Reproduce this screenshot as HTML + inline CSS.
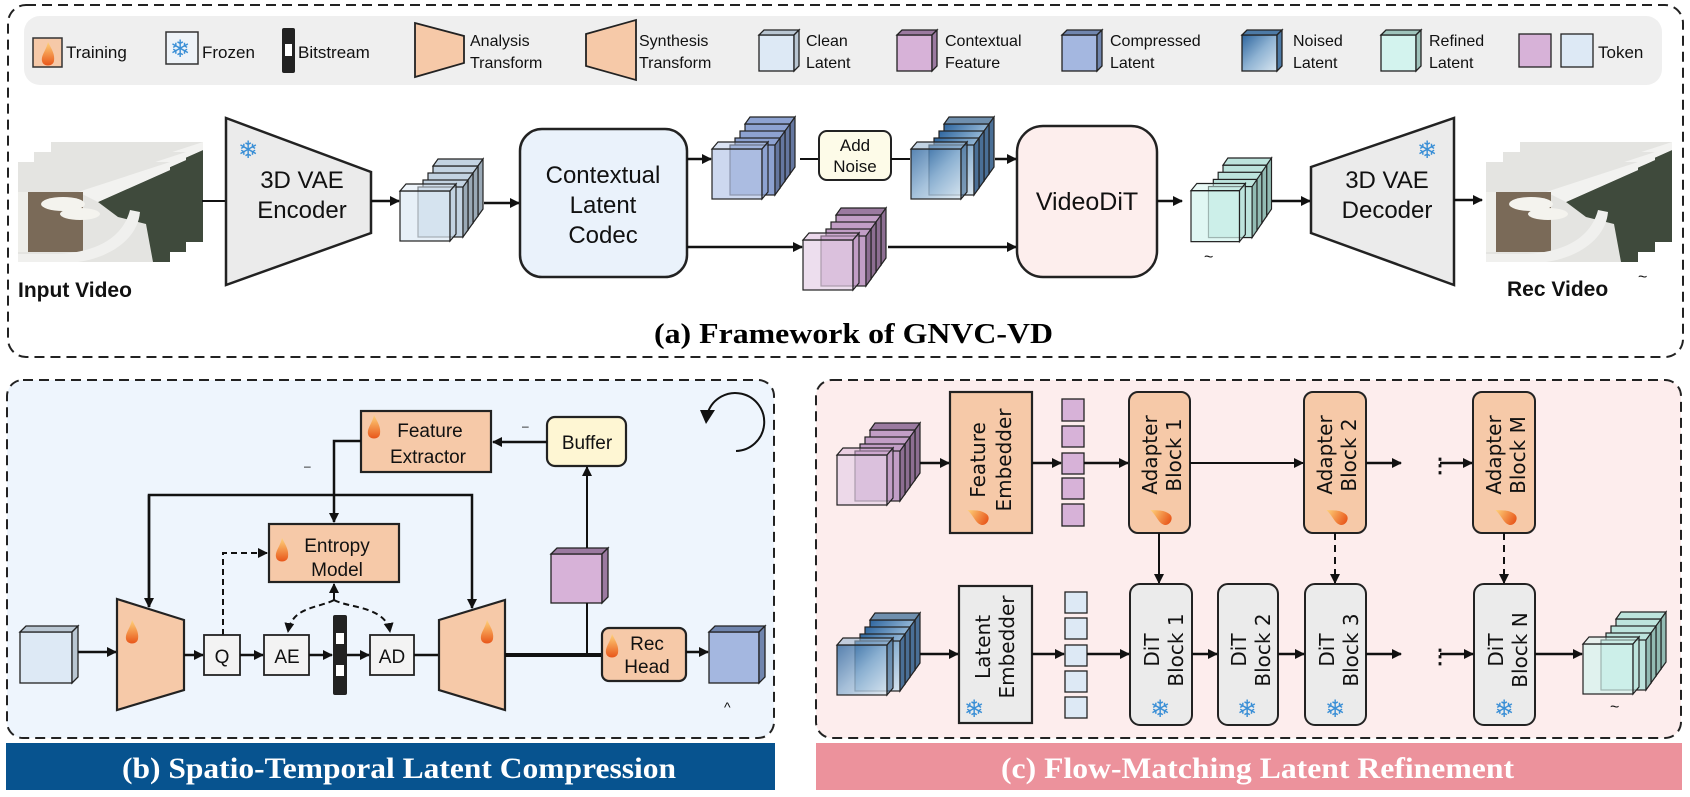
<!DOCTYPE html>
<html><head><meta charset="utf-8"><style>
html,body{margin:0;padding:0;background:#fff}
svg{display:block}
.t{font-family:"Liberation Sans",sans-serif;fill:#111}
.s{font-family:"DejaVu Sans",sans-serif;fill:#111}
.sf{font-family:"DejaVu Sans",sans-serif;fill:#3a8fd6}
.ti{font-family:"Liberation Serif",serif;font-weight:bold}
</style></head><body>
<svg width="1690" height="797" viewBox="0 0 1690 797" xmlns="http://www.w3.org/2000/svg">
<defs>
<marker id="ar" markerWidth="10" markerHeight="10" refX="9" refY="5" orient="auto" markerUnits="userSpaceOnUse"><path d="M0,0 L10,5 L0,10z" fill="#111"/></marker>
<linearGradient id="fl" x1="0" y1="0" x2="0" y2="1"><stop offset="0" stop-color="#ffd27a"/><stop offset="1" stop-color="#e8561a"/></linearGradient>
<linearGradient id="nz" x1="0" y1="0" x2="1" y2="1"><stop offset="0" stop-color="#2d659e"/><stop offset=".5" stop-color="#8fb3d3"/><stop offset="1" stop-color="#d9e6f0"/></linearGradient>
<g id="flame"><path d="M6,0 C10,8 13,12 12,19 C11,25 1,25 0,19 C-1,13 4,9 6,0Z" fill="url(#fl)"/></g>
<g id="frame">
<rect width="152" height="100" fill="#e4e4e1"/>
<polygon points="80,40 152,8 152,100 135,100 128,62 100,55" fill="#3f4a3c"/>
<polygon points="60,30 152,0 152,8 80,40" fill="#f2f2f0"/>
<rect x="0" y="30" width="65" height="60" fill="#7a6a58"/>
<ellipse cx="45" cy="42" rx="22" ry="7" fill="#f4f3ee"/>
<ellipse cx="62" cy="52" rx="20" ry="6" fill="#f4f3ee"/>
<path d="M0,100 L60,100 C95,95 120,75 122,50 L112,48 C105,75 80,90 40,92 L0,92Z" fill="#f0f0ee"/>
<rect x="0" y="30" width="10" height="60" fill="#eeeeea"/>
</g>
</defs>

<!-- ============ (a) ============ -->
<rect x="8" y="5" width="1675" height="352" rx="18" fill="#fff" stroke="#222" stroke-width="2" stroke-dasharray="10 6"/>
<rect x="24" y="16" width="1638" height="69" rx="16" fill="#efefef"/>

<rect x="33" y="38" width="29" height="29" fill="#f6c9a8" stroke="#333" stroke-width="1.5"/>
<use href="#flame" x="42" y="42"/>
<text class="t" x="66" y="58" font-size="17">Training</text>
<rect x="166" y="32" width="32" height="32" fill="#eef3f8" stroke="#333" stroke-width="1.5"/>
<text class="sf" x="170" y="57" font-size="24">❄</text>
<text class="t" x="202" y="58" font-size="17">Frozen</text>
<rect x="282" y="28" width="13" height="45" rx="2" fill="#222"/>
<rect x="285" y="44" width="7" height="12" fill="#fff"/>
<text class="t" x="298" y="58" font-size="17">Bitstream</text>
<polygon points="415,23 464,36 464,63 415,77" fill="#f6c9a8" stroke="#222" stroke-width="1.8"/>
<text class="t" x="470" y="46" font-size="16">Analysis</text>
<text class="t" x="470" y="68" font-size="16">Transform</text>
<polygon points="586,34 636,20 636,80 586,66" fill="#f6c9a8" stroke="#222" stroke-width="1.8"/>
<text class="t" x="639" y="46" font-size="16">Synthesis</text>
<text class="t" x="639" y="68" font-size="16">Transform</text>
<g stroke="#222" stroke-width="1.3">
<rect x="759" y="35" width="35" height="36" fill="#dde9f5"/><polygon points="759,35 764,30 799,30 794,35" fill="#b9c6d2"/><polygon points="794,35 799,30 799,66 794,71" fill="#b9c6d2"/>
<rect x="897" y="35" width="35" height="36" fill="#d7b2d8"/><polygon points="897,35 902,30 937,30 932,35" fill="#9b7aa0"/><polygon points="932,35 937,30 937,66 932,71" fill="#9b7aa0"/>
<rect x="1062" y="35" width="35" height="36" fill="#a4b7e0"/><polygon points="1062,35 1067,30 1102,30 1097,35" fill="#7085ae"/><polygon points="1097,35 1102,30 1102,66 1097,71" fill="#7085ae"/>
<rect x="1242" y="35" width="35" height="36" fill="url(#nz)"/><polygon points="1242,35 1247,30 1282,30 1277,35" fill="#4d7aa6"/><polygon points="1277,35 1282,30 1282,66 1277,71" fill="#4d7aa6"/>
<rect x="1381" y="35" width="35" height="36" fill="#d3f3ee"/><polygon points="1381,35 1386,30 1421,30 1416,35" fill="#9ec3bb"/><polygon points="1416,35 1421,30 1421,66 1416,71" fill="#9ec3bb"/>
<rect x="1519" y="34" width="32" height="33" fill="#d7b2d8"/>
<rect x="1561" y="34" width="32" height="33" fill="#dde9f5"/>
</g>
<text class="t" x="806" y="46" font-size="16">Clean</text><text class="t" x="806" y="68" font-size="16">Latent</text>
<text class="t" x="945" y="46" font-size="16">Contextual</text><text class="t" x="945" y="68" font-size="16">Feature</text>
<text class="t" x="1110" y="46" font-size="16">Compressed</text><text class="t" x="1110" y="68" font-size="16">Latent</text>
<text class="t" x="1293" y="46" font-size="16">Noised</text><text class="t" x="1293" y="68" font-size="16">Latent</text>
<text class="t" x="1429" y="46" font-size="16">Refined</text><text class="t" x="1429" y="68" font-size="16">Latent</text>
<text class="t" x="1598" y="58" font-size="17">Token</text>

<use href="#frame" x="51" y="142"/><use href="#frame" x="34" y="152"/><use href="#frame" x="18" y="162"/>
<text class="t" x="18" y="297" font-size="21" font-weight="bold">Input Video</text>
<line x1="202" y1="201" x2="226" y2="201" stroke="#111" stroke-width="2"/>
<polygon points="226,118 371,172 371,233 226,285" fill="#ebebeb" stroke="#222" stroke-width="2.5"/>
<text class="sf" x="238" y="158" font-size="24">❄</text>
<text class="t" x="302" y="188" font-size="24" text-anchor="middle">3D VAE</text>
<text class="t" x="302" y="218" font-size="24" text-anchor="middle">Encoder</text>
<line x1="371" y1="201" x2="399" y2="201" stroke="#111" stroke-width="2.5" marker-end="url(#ar)"/>

<g transform="translate(400,159)" stroke="#222" stroke-width="1.2">
<g fill="#c3d3e2"><rect x="33" y="7" width="45" height="50"/><polygon points="33,7 38,0 83,0 78,7"/><polygon points="78,7 83,0 83,50 78,57" fill="#9aa9b6"/>
<rect x="28" y="14" width="45" height="50"/><polygon points="73,14 78,7 78,57 73,64" fill="#9aa9b6"/>
<rect x="23" y="21" width="45" height="50"/><polygon points="68,21 73,14 73,64 68,71" fill="#9aa9b6"/>
<rect x="18" y="28" width="45" height="50"/><polygon points="63,28 68,21 68,71 63,78" fill="#9aa9b6"/></g>
<rect x="0" y="32" width="50" height="50" fill="#dde9f5" fill-opacity=".7"/><polygon points="0,32 6,25 56,25 50,32" fill="#dde9f5" fill-opacity=".5"/><polygon points="50,32 56,25 56,75 50,82" fill="#c3d3e2" fill-opacity=".6"/>
</g>
<line x1="484" y1="203" x2="519" y2="203" stroke="#111" stroke-width="2.5" marker-end="url(#ar)"/>
<rect x="520" y="129" width="167" height="148" rx="22" fill="#eaf2fb" stroke="#222" stroke-width="2.5"/>
<text class="t" x="603" y="183" font-size="24" text-anchor="middle">Contextual</text>
<text class="t" x="603" y="213" font-size="24" text-anchor="middle">Latent</text>
<text class="t" x="603" y="243" font-size="24" text-anchor="middle">Codec</text>
<line x1="687" y1="159" x2="711" y2="159" stroke="#111" stroke-width="2.5" marker-end="url(#ar)"/>
<g transform="translate(712,117)" stroke="#222" stroke-width="1.2">
<g fill="#8da2d1"><rect x="33" y="7" width="45" height="50"/><polygon points="33,7 38,0 83,0 78,7"/><polygon points="78,7 83,0 83,50 78,57" fill="#6577a0"/>
<rect x="28" y="14" width="45" height="50"/><polygon points="73,14 78,7 78,57 73,64" fill="#6577a0"/>
<rect x="23" y="21" width="45" height="50"/><polygon points="68,21 73,14 73,64 68,71" fill="#6577a0"/>
<rect x="18" y="28" width="45" height="50"/><polygon points="63,28 68,21 68,71 63,78" fill="#6577a0"/></g>
<rect x="0" y="32" width="50" height="50" fill="#b8c7e8" fill-opacity=".7"/><polygon points="0,32 6,25 56,25 50,32" fill="#b8c7e8" fill-opacity=".5"/><polygon points="50,32 56,25 56,75 50,82" fill="#8da2d1" fill-opacity=".6"/>
</g>
<line x1="800" y1="159" x2="819" y2="159" stroke="#111" stroke-width="2"/>
<rect x="819" y="131" width="72" height="49" rx="8" fill="#fdfbe8" stroke="#222" stroke-width="2"/>
<text class="t" x="855" y="151" font-size="17" text-anchor="middle">Add</text>
<text class="t" x="855" y="172" font-size="17" text-anchor="middle">Noise</text>
<line x1="891" y1="159" x2="910" y2="159" stroke="#111" stroke-width="2"/>
<g transform="translate(911,117)" stroke="#222" stroke-width="1.2">
<g fill="url(#nz)"><rect x="33" y="7" width="45" height="50"/><polygon points="33,7 38,0 83,0 78,7" fill="#6f8fae"/><polygon points="78,7 83,0 83,50 78,57" fill="#4a6f96"/>
<rect x="28" y="14" width="45" height="50"/><polygon points="73,14 78,7 78,57 73,64" fill="#4a6f96"/>
<rect x="23" y="21" width="45" height="50"/><polygon points="68,21 73,14 73,64 68,71" fill="#4a6f96"/>
<rect x="18" y="28" width="45" height="50"/><polygon points="63,28 68,21 68,71 63,78" fill="#4a6f96"/></g>
<rect x="0" y="32" width="50" height="50" fill="url(#nz)" fill-opacity=".8"/><polygon points="0,32 6,25 56,25 50,32" fill="#9ab6d0" fill-opacity=".6"/><polygon points="50,32 56,25 56,75 50,82" fill="#4a6f96" fill-opacity=".6"/>
</g>
<line x1="995" y1="159" x2="1016" y2="159" stroke="#111" stroke-width="2.5" marker-end="url(#ar)"/>
<line x1="687" y1="247" x2="802" y2="247" stroke="#111" stroke-width="2.5" marker-end="url(#ar)"/>
<g transform="translate(803,208)" stroke="#222" stroke-width="1.2">
<g fill="#c29ec6"><rect x="33" y="7" width="45" height="50"/><polygon points="33,7 38,0 83,0 78,7" fill="#9b7aa0"/><polygon points="78,7 83,0 83,50 78,57" fill="#8d6e92"/>
<rect x="28" y="14" width="45" height="50"/><polygon points="73,14 78,7 78,57 73,64" fill="#8d6e92"/>
<rect x="23" y="21" width="45" height="50"/><polygon points="68,21 73,14 73,64 68,71" fill="#8d6e92"/>
<rect x="18" y="28" width="45" height="50"/><polygon points="63,28 68,21 68,71 63,78" fill="#8d6e92"/></g>
<rect x="0" y="32" width="50" height="50" fill="#e6d0e7" fill-opacity=".7"/><polygon points="0,32 6,25 56,25 50,32" fill="#d7b2d8" fill-opacity=".5"/><polygon points="50,32 56,25 56,75 50,82" fill="#c29ec6" fill-opacity=".6"/>
</g>
<line x1="888" y1="247" x2="1016" y2="247" stroke="#111" stroke-width="2.5" marker-end="url(#ar)"/>
<rect x="1017" y="126" width="140" height="151" rx="26" fill="#fdeeed" stroke="#222" stroke-width="2.5"/>
<text class="t" x="1087" y="210" font-size="25" text-anchor="middle">VideoDiT</text>
<line x1="1157" y1="201" x2="1182" y2="201" stroke="#111" stroke-width="2.5" marker-end="url(#ar)"/>
<g transform="translate(1191,158) scale(0.97 1.02)" stroke="#222" stroke-width="1.2">
<g fill="#bde4dd"><rect x="33" y="7" width="45" height="50"/><polygon points="33,7 38,0 83,0 78,7"/><polygon points="78,7 83,0 83,50 78,57" fill="#92bbb3"/>
<rect x="28" y="14" width="45" height="50"/><polygon points="73,14 78,7 78,57 73,64" fill="#92bbb3"/>
<rect x="23" y="21" width="45" height="50"/><polygon points="68,21 73,14 73,64 68,71" fill="#92bbb3"/>
<rect x="18" y="28" width="45" height="50"/><polygon points="63,28 68,21 68,71 63,78" fill="#92bbb3"/></g>
<rect x="0" y="32" width="50" height="50" fill="#d3f3ee" fill-opacity=".7"/><polygon points="0,32 6,25 56,25 50,32" fill="#d3f3ee" fill-opacity=".5"/><polygon points="50,32 56,25 56,75 50,82" fill="#bde4dd" fill-opacity=".6"/>
</g>
<text class="t" x="1204" y="262" font-size="16">~</text>
<line x1="1272" y1="201" x2="1310" y2="201" stroke="#111" stroke-width="2.5" marker-end="url(#ar)"/>
<polygon points="1311,167 1454,118 1454,285 1311,233" fill="#ebebeb" stroke="#222" stroke-width="2.5"/>
<text class="sf" x="1417" y="158" font-size="24">❄</text>
<text class="t" x="1387" y="188" font-size="24" text-anchor="middle">3D VAE</text>
<text class="t" x="1387" y="218" font-size="24" text-anchor="middle">Decoder</text>
<line x1="1454" y1="200" x2="1482" y2="200" stroke="#111" stroke-width="2.5" marker-end="url(#ar)"/>
<use href="#frame" x="1520" y="142"/><use href="#frame" x="1503" y="152"/><use href="#frame" x="1486" y="162"/>
<text class="t" x="1507" y="296" font-size="21" font-weight="bold">Rec Video</text>
<text class="t" x="1638" y="282" font-size="16">~</text>
<text class="ti" x="654" y="343" font-size="28" textLength="399" lengthAdjust="spacingAndGlyphs">(a)  Framework of GNVC-VD</text>

<!-- ============ (b) ============ -->
<rect x="7" y="380" width="767" height="358" rx="16" fill="#eef5fd" stroke="#222" stroke-width="2" stroke-dasharray="10 6"/>
<rect x="6" y="743" width="769" height="47" fill="#07538f"/>
<text class="ti" x="122" y="778" font-size="30" fill="#fff" textLength="554" lengthAdjust="spacingAndGlyphs">(b)  Spatio-Temporal Latent Compression</text>

<rect x="361" y="411" width="130" height="61" fill="#f6c9a8" stroke="#222" stroke-width="2.2"/>
<use href="#flame" x="368" y="415"/>
<text class="t" x="430" y="437" font-size="19" text-anchor="middle">Feature</text>
<text class="t" x="428" y="463" font-size="19" text-anchor="middle">Extractor</text>
<rect x="547" y="417" width="79" height="49" rx="8" fill="#fef6d3" stroke="#222" stroke-width="2.2"/>
<text class="t" x="587" y="449" font-size="19" text-anchor="middle">Buffer</text>
<line x1="547" y1="442" x2="493" y2="442" stroke="#111" stroke-width="2.5" marker-end="url(#ar)"/>
<text class="t" x="522" y="430" font-size="12">–</text>
<text class="t" x="304" y="470" font-size="12">–</text>
<path d="M708,412 A29,29 0 1 1 736,451" fill="none" stroke="#111" stroke-width="2"/>
<polygon points="700,410 715,410 706,424" fill="#111"/>

<polyline points="361,441 334,441 334,522" fill="none" stroke="#111" stroke-width="2.5" marker-end="url(#ar)"/>
<polyline points="149,607 149,495 472,495 472,608" fill="none" stroke="#111" stroke-width="2.5" marker-end="url(#ar)"/>
<line x1="149" y1="495" x2="149" y2="607" stroke="#111" stroke-width="2.5" marker-end="url(#ar)"/>
<rect x="269" y="524" width="130" height="58" fill="#f6c9a8" stroke="#222" stroke-width="2.2"/>
<use href="#flame" x="276" y="538"/>
<text class="t" x="337" y="552" font-size="19" text-anchor="middle">Entropy</text>
<text class="t" x="337" y="576" font-size="19" text-anchor="middle">Model</text>
<polyline points="223,635 223,553 267,553" fill="none" stroke="#111" stroke-width="2" stroke-dasharray="6 4" marker-end="url(#ar)"/>
<line x1="334" y1="600" x2="334" y2="584" stroke="#111" stroke-width="2" marker-end="url(#ar)"/>
<path d="M334,600 C320,608 292,606 288,632" fill="none" stroke="#111" stroke-width="2" stroke-dasharray="6 4" marker-end="url(#ar)"/>
<path d="M334,600 C348,608 386,606 390,632" fill="none" stroke="#111" stroke-width="2" stroke-dasharray="6 4" marker-end="url(#ar)"/>

<g stroke="#222" stroke-width="1.3">
<rect x="20" y="632" width="52" height="51" fill="#dde9f5"/><polygon points="20,632 26,626 78,626 72,632" fill="#b9c6d2"/><polygon points="72,632 78,626 78,677 72,683" fill="#b9c6d2"/>
<rect x="551" y="554" width="51" height="49" fill="#d7b2d8"/><polygon points="551,554 557,548 608,548 602,554" fill="#9b7aa0"/><polygon points="602,554 608,548 608,597 602,603" fill="#9b7aa0"/>
<rect x="709" y="632" width="50" height="51" fill="#a4b7e0"/><polygon points="709,632 715,626 765,626 759,632" fill="#7085ae"/><polygon points="759,632 765,626 765,677 759,683" fill="#7085ae"/>
</g>
<text class="t" x="724" y="712" font-size="14">^</text>
<line x1="78" y1="652" x2="116" y2="652" stroke="#111" stroke-width="2.5" marker-end="url(#ar)"/>
<polygon points="117,599 184,620 184,690 117,710" fill="#f6c9a8" stroke="#222" stroke-width="2.2"/>
<use href="#flame" x="126" y="620"/>
<line x1="184" y1="655" x2="203" y2="655" stroke="#111" stroke-width="2.5" marker-end="url(#ar)"/>
<rect x="204" y="635" width="36" height="40" fill="#f3f3f3" stroke="#222" stroke-width="1.8"/>
<text class="t" x="222" y="663" font-size="19" text-anchor="middle">Q</text>
<line x1="240" y1="655" x2="263" y2="655" stroke="#111" stroke-width="2.5" marker-end="url(#ar)"/>
<rect x="264" y="635" width="45" height="40" fill="#f3f3f3" stroke="#222" stroke-width="1.8"/>
<text class="t" x="287" y="663" font-size="19" text-anchor="middle">AE</text>
<line x1="309" y1="655" x2="332" y2="655" stroke="#111" stroke-width="2.5" marker-end="url(#ar)"/>
<rect x="333" y="615" width="14" height="80" rx="2" fill="#222"/>
<rect x="336" y="633" width="8" height="11" fill="#fff"/><rect x="336" y="665" width="8" height="11" fill="#fff"/>
<line x1="347" y1="655" x2="369" y2="655" stroke="#111" stroke-width="2.5" marker-end="url(#ar)"/>
<rect x="370" y="635" width="44" height="40" fill="#f3f3f3" stroke="#222" stroke-width="1.8"/>
<text class="t" x="392" y="663" font-size="19" text-anchor="middle">AD</text>
<line x1="414" y1="655" x2="439" y2="655" stroke="#111" stroke-width="2.5"/>
<polygon points="439,620 505,600 505,710 439,690" fill="#f6c9a8" stroke="#222" stroke-width="2.2"/>
<use href="#flame" x="481" y="620"/>
<line x1="505" y1="655" x2="602" y2="655" stroke="#111" stroke-width="4"/>
<line x1="587" y1="655" x2="587" y2="603" stroke="#111" stroke-width="2"/>
<line x1="587" y1="548" x2="587" y2="467" stroke="#111" stroke-width="2" marker-end="url(#ar)"/>
<rect x="602" y="628" width="84" height="53" rx="7" fill="#f6c9a8" stroke="#222" stroke-width="2.2"/>
<use href="#flame" x="606" y="634"/>
<text class="t" x="647" y="650" font-size="19" text-anchor="middle">Rec</text>
<text class="t" x="647" y="673" font-size="19" text-anchor="middle">Head</text>
<line x1="686" y1="652" x2="708" y2="652" stroke="#111" stroke-width="2.5" marker-end="url(#ar)"/>

<!-- ============ (c) ============ -->
<rect x="816" y="380" width="865" height="358" rx="16" fill="#fdeded" stroke="#222" stroke-width="2" stroke-dasharray="10 6"/>
<rect x="816" y="743" width="866" height="47" fill="#ec929c"/>
<text class="ti" x="1001" y="778" font-size="30" fill="#fff" textLength="513" lengthAdjust="spacingAndGlyphs">(c)  Flow-Matching Latent Refinement</text>

<g transform="translate(837,423)" stroke="#222" stroke-width="1.2">
<g fill="#c29ec6"><rect x="33" y="7" width="45" height="50"/><polygon points="33,7 38,0 83,0 78,7" fill="#9b7aa0"/><polygon points="78,7 83,0 83,50 78,57" fill="#8d6e92"/>
<rect x="28" y="14" width="45" height="50"/><polygon points="73,14 78,7 78,57 73,64" fill="#8d6e92"/>
<rect x="23" y="21" width="45" height="50"/><polygon points="68,21 73,14 73,64 68,71" fill="#8d6e92"/>
<rect x="18" y="28" width="45" height="50"/><polygon points="63,28 68,21 68,71 63,78" fill="#8d6e92"/></g>
<rect x="0" y="32" width="50" height="50" fill="#e6d0e7" fill-opacity=".7"/><polygon points="0,32 6,25 56,25 50,32" fill="#d7b2d8" fill-opacity=".5"/><polygon points="50,32 56,25 56,75 50,82" fill="#c29ec6" fill-opacity=".6"/>
</g>
<line x1="920" y1="463" x2="949" y2="463" stroke="#111" stroke-width="2.5" marker-end="url(#ar)"/>
<rect x="950" y="392" width="82" height="141" fill="#f6c9a8" stroke="#222" stroke-width="2.2"/>
<text class="s" font-size="20" text-anchor="middle" transform="translate(985,460) rotate(-90)">Feature</text>
<text class="s" font-size="20" text-anchor="middle" transform="translate(1011,460) rotate(-90)">Embedder</text>
<use href="#flame" x="970" y="505" transform="rotate(-60 976 515)"/>
<line x1="1032" y1="463" x2="1061" y2="463" stroke="#111" stroke-width="2.5" marker-end="url(#ar)"/>
<g fill="#d7b2d8" stroke="#222" stroke-width="1.3">
<rect x="1062" y="399" width="22" height="22"/><rect x="1062" y="426" width="22" height="21"/><rect x="1062" y="453" width="22" height="21"/><rect x="1062" y="478" width="22" height="21"/><rect x="1062" y="504" width="22" height="22"/>
</g>
<line x1="1084" y1="463" x2="1128" y2="463" stroke="#111" stroke-width="2.5" marker-end="url(#ar)"/>
<g stroke="#222" stroke-width="2" fill="#f6c9a8">
<rect x="1129" y="392" width="61" height="141" rx="9"/>
<rect x="1304" y="392" width="62" height="141" rx="9"/>
<rect x="1473" y="392" width="62" height="141" rx="9"/>
</g>
<text class="s" font-size="20" text-anchor="middle" transform="translate(1157,455) rotate(-90)">Adapter</text>
<text class="s" font-size="20" text-anchor="middle" transform="translate(1181,455) rotate(-90)">Block 1</text>
<text class="s" font-size="20" text-anchor="middle" transform="translate(1332,455) rotate(-90)">Adapter</text>
<text class="s" font-size="20" text-anchor="middle" transform="translate(1356,455) rotate(-90)">Block 2</text>
<text class="s" font-size="20" text-anchor="middle" transform="translate(1501,455) rotate(-90)">Adapter</text>
<text class="s" font-size="20" text-anchor="middle" transform="translate(1525,455) rotate(-90)">Block M</text>
<use href="#flame" x="1153" y="505" transform="rotate(-60 1159 515)"/>
<use href="#flame" x="1329" y="505" transform="rotate(-60 1335 515)"/>
<use href="#flame" x="1498" y="505" transform="rotate(-60 1504 515)"/>
<line x1="1190" y1="463" x2="1303" y2="463" stroke="#111" stroke-width="2" marker-end="url(#ar)"/>
<line x1="1366" y1="463" x2="1401" y2="463" stroke="#111" stroke-width="2.5" marker-end="url(#ar)"/>
<text class="t" x="1430" y="472" font-size="20" font-weight="bold">⋮</text>
<line x1="1440" y1="463" x2="1472" y2="463" stroke="#111" stroke-width="2.5" marker-end="url(#ar)"/>
<line x1="1159" y1="533" x2="1159" y2="583" stroke="#111" stroke-width="2" marker-end="url(#ar)"/>
<line x1="1335" y1="533" x2="1335" y2="583" stroke="#111" stroke-width="2" stroke-dasharray="7 5" marker-end="url(#ar)"/>
<line x1="1504" y1="533" x2="1504" y2="583" stroke="#111" stroke-width="2" stroke-dasharray="7 5" marker-end="url(#ar)"/>

<g transform="translate(837,613)" stroke="#222" stroke-width="1.2">
<g fill="url(#nz)"><rect x="33" y="7" width="45" height="50"/><polygon points="33,7 38,0 83,0 78,7" fill="#6f8fae"/><polygon points="78,7 83,0 83,50 78,57" fill="#4a6f96"/>
<rect x="28" y="14" width="45" height="50"/><polygon points="73,14 78,7 78,57 73,64" fill="#4a6f96"/>
<rect x="23" y="21" width="45" height="50"/><polygon points="68,21 73,14 73,64 68,71" fill="#4a6f96"/>
<rect x="18" y="28" width="45" height="50"/><polygon points="63,28 68,21 68,71 63,78" fill="#4a6f96"/></g>
<rect x="0" y="32" width="50" height="50" fill="url(#nz)" fill-opacity=".8"/><polygon points="0,32 6,25 56,25 50,32" fill="#9ab6d0" fill-opacity=".6"/><polygon points="50,32 56,25 56,75 50,82" fill="#4a6f96" fill-opacity=".6"/>
</g>
<line x1="920" y1="654" x2="958" y2="654" stroke="#111" stroke-width="2.5" marker-end="url(#ar)"/>
<rect x="959" y="586" width="73" height="137" fill="#ebebeb" stroke="#222" stroke-width="2.2"/>
<text class="s" font-size="20" text-anchor="middle" transform="translate(990,647) rotate(-90)">Latent</text>
<text class="s" font-size="20" text-anchor="middle" transform="translate(1014,647) rotate(-90)">Embedder</text>
<text class="sf" x="964" y="717" font-size="24">❄</text>
<line x1="1032" y1="654" x2="1064" y2="654" stroke="#111" stroke-width="2.5" marker-end="url(#ar)"/>
<g fill="#dde9f5" stroke="#222" stroke-width="1.3">
<rect x="1065" y="592" width="22" height="21"/><rect x="1065" y="618" width="22" height="21"/><rect x="1065" y="645" width="22" height="21"/><rect x="1065" y="671" width="22" height="21"/><rect x="1065" y="697" width="22" height="21"/>
</g>
<line x1="1087" y1="654" x2="1129" y2="654" stroke="#111" stroke-width="2.5" marker-end="url(#ar)"/>
<g stroke="#222" stroke-width="2" fill="#ebebeb">
<rect x="1130" y="584" width="62" height="141" rx="10"/>
<rect x="1218" y="584" width="60" height="141" rx="10"/>
<rect x="1305" y="584" width="61" height="141" rx="10"/>
<rect x="1474" y="584" width="61" height="141" rx="10"/>
</g>
<text class="s" font-size="20" text-anchor="middle" transform="translate(1159,650) rotate(-90)">DiT</text>
<text class="s" font-size="20" text-anchor="middle" transform="translate(1183,650) rotate(-90)">Block 1</text>
<text class="s" font-size="20" text-anchor="middle" transform="translate(1246,650) rotate(-90)">DiT</text>
<text class="s" font-size="20" text-anchor="middle" transform="translate(1270,650) rotate(-90)">Block 2</text>
<text class="s" font-size="20" text-anchor="middle" transform="translate(1334,650) rotate(-90)">DiT</text>
<text class="s" font-size="20" text-anchor="middle" transform="translate(1358,650) rotate(-90)">Block 3</text>
<text class="s" font-size="20" text-anchor="middle" transform="translate(1503,650) rotate(-90)">DiT</text>
<text class="s" font-size="20" text-anchor="middle" transform="translate(1527,650) rotate(-90)">Block N</text>
<text class="sf" x="1150" y="717" font-size="24">❄</text>
<text class="sf" x="1237" y="717" font-size="24">❄</text>
<text class="sf" x="1325" y="717" font-size="24">❄</text>
<text class="sf" x="1494" y="717" font-size="24">❄</text>
<line x1="1192" y1="654" x2="1217" y2="654" stroke="#111" stroke-width="2.5" marker-end="url(#ar)"/>
<line x1="1278" y1="654" x2="1304" y2="654" stroke="#111" stroke-width="2.5" marker-end="url(#ar)"/>
<line x1="1366" y1="654" x2="1401" y2="654" stroke="#111" stroke-width="2.5" marker-end="url(#ar)"/>
<text class="t" x="1430" y="663" font-size="20" font-weight="bold">⋮</text>
<line x1="1440" y1="654" x2="1473" y2="654" stroke="#111" stroke-width="2.5" marker-end="url(#ar)"/>
<line x1="1535" y1="654" x2="1582" y2="654" stroke="#111" stroke-width="2.5" marker-end="url(#ar)"/>
<g transform="translate(1583,612)" stroke="#222" stroke-width="1.2">
<g fill="#bde4dd"><rect x="33" y="7" width="45" height="50"/><polygon points="33,7 38,0 83,0 78,7"/><polygon points="78,7 83,0 83,50 78,57" fill="#92bbb3"/>
<rect x="28" y="14" width="45" height="50"/><polygon points="73,14 78,7 78,57 73,64" fill="#92bbb3"/>
<rect x="23" y="21" width="45" height="50"/><polygon points="68,21 73,14 73,64 68,71" fill="#92bbb3"/>
<rect x="18" y="28" width="45" height="50"/><polygon points="63,28 68,21 68,71 63,78" fill="#92bbb3"/></g>
<rect x="0" y="32" width="50" height="50" fill="#d3f3ee" fill-opacity=".7"/><polygon points="0,32 6,25 56,25 50,32" fill="#d3f3ee" fill-opacity=".5"/><polygon points="50,32 56,25 56,75 50,82" fill="#bde4dd" fill-opacity=".6"/>
</g>
<text class="t" x="1610" y="712" font-size="16">~</text>
</svg>
</body></html>
